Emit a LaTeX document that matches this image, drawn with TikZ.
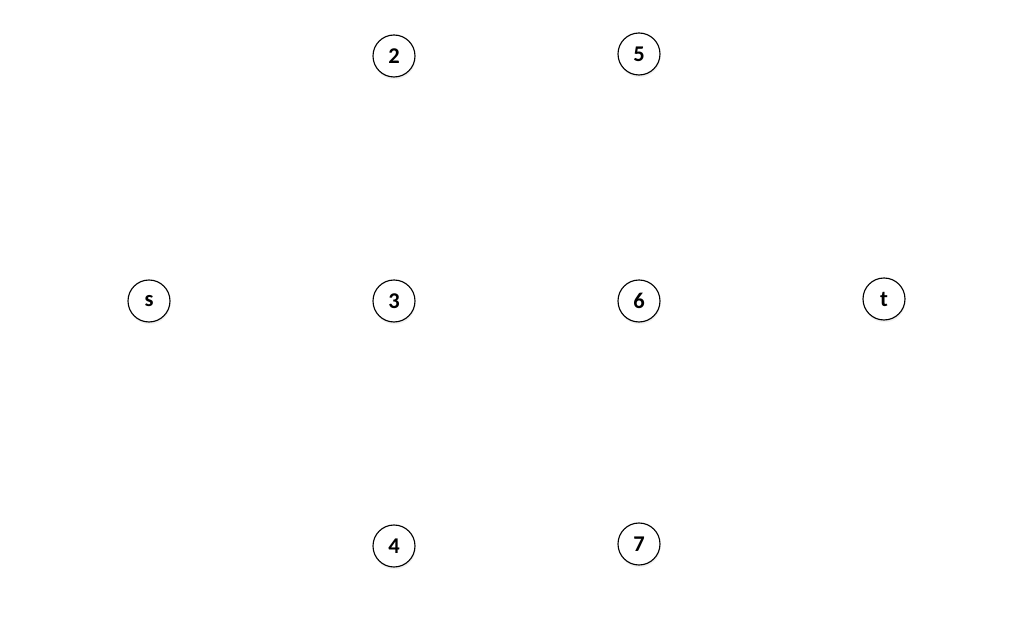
\documentclass[tikz,border=0pt]{standalone}
\usepackage{fontspec}
\setmainfont{Carlito}
\usetikzlibrary{positioning,shadows}

\begin{document}
\begin{tikzpicture}[node distance=6.125cm,
  vertex/.style={circle, draw, line width=0.8pt, fill=white, minimum size=1.05cm, inner sep=0pt,
    font=\fontsize{16}{19}\selectfont\bfseries,
    drop shadow={opacity=0.12, shadow xshift=0.4pt, shadow yshift=-1.6pt}}]
  \useasboundingbox (0,0) rectangle (25.6,15.425);
  \node[vertex](s) at (3.725,7.9) {s};
  \node[vertex](n3)[right of=s] {3};
  \node[vertex](n2)[above of=n3] {2};
  \node[vertex](n4)[below of=n3] {4};
  \node[vertex](n6)[right of=n3] {6};
  \node[vertex](n5)[above of=n6, yshift=0.05cm] {5};
  \node[vertex](n7)[below of=n6, yshift=0.05cm] {7};
  \node[vertex](t)[right of=n6, yshift=0.05cm] {t};
  \end{tikzpicture}
\end{document}
